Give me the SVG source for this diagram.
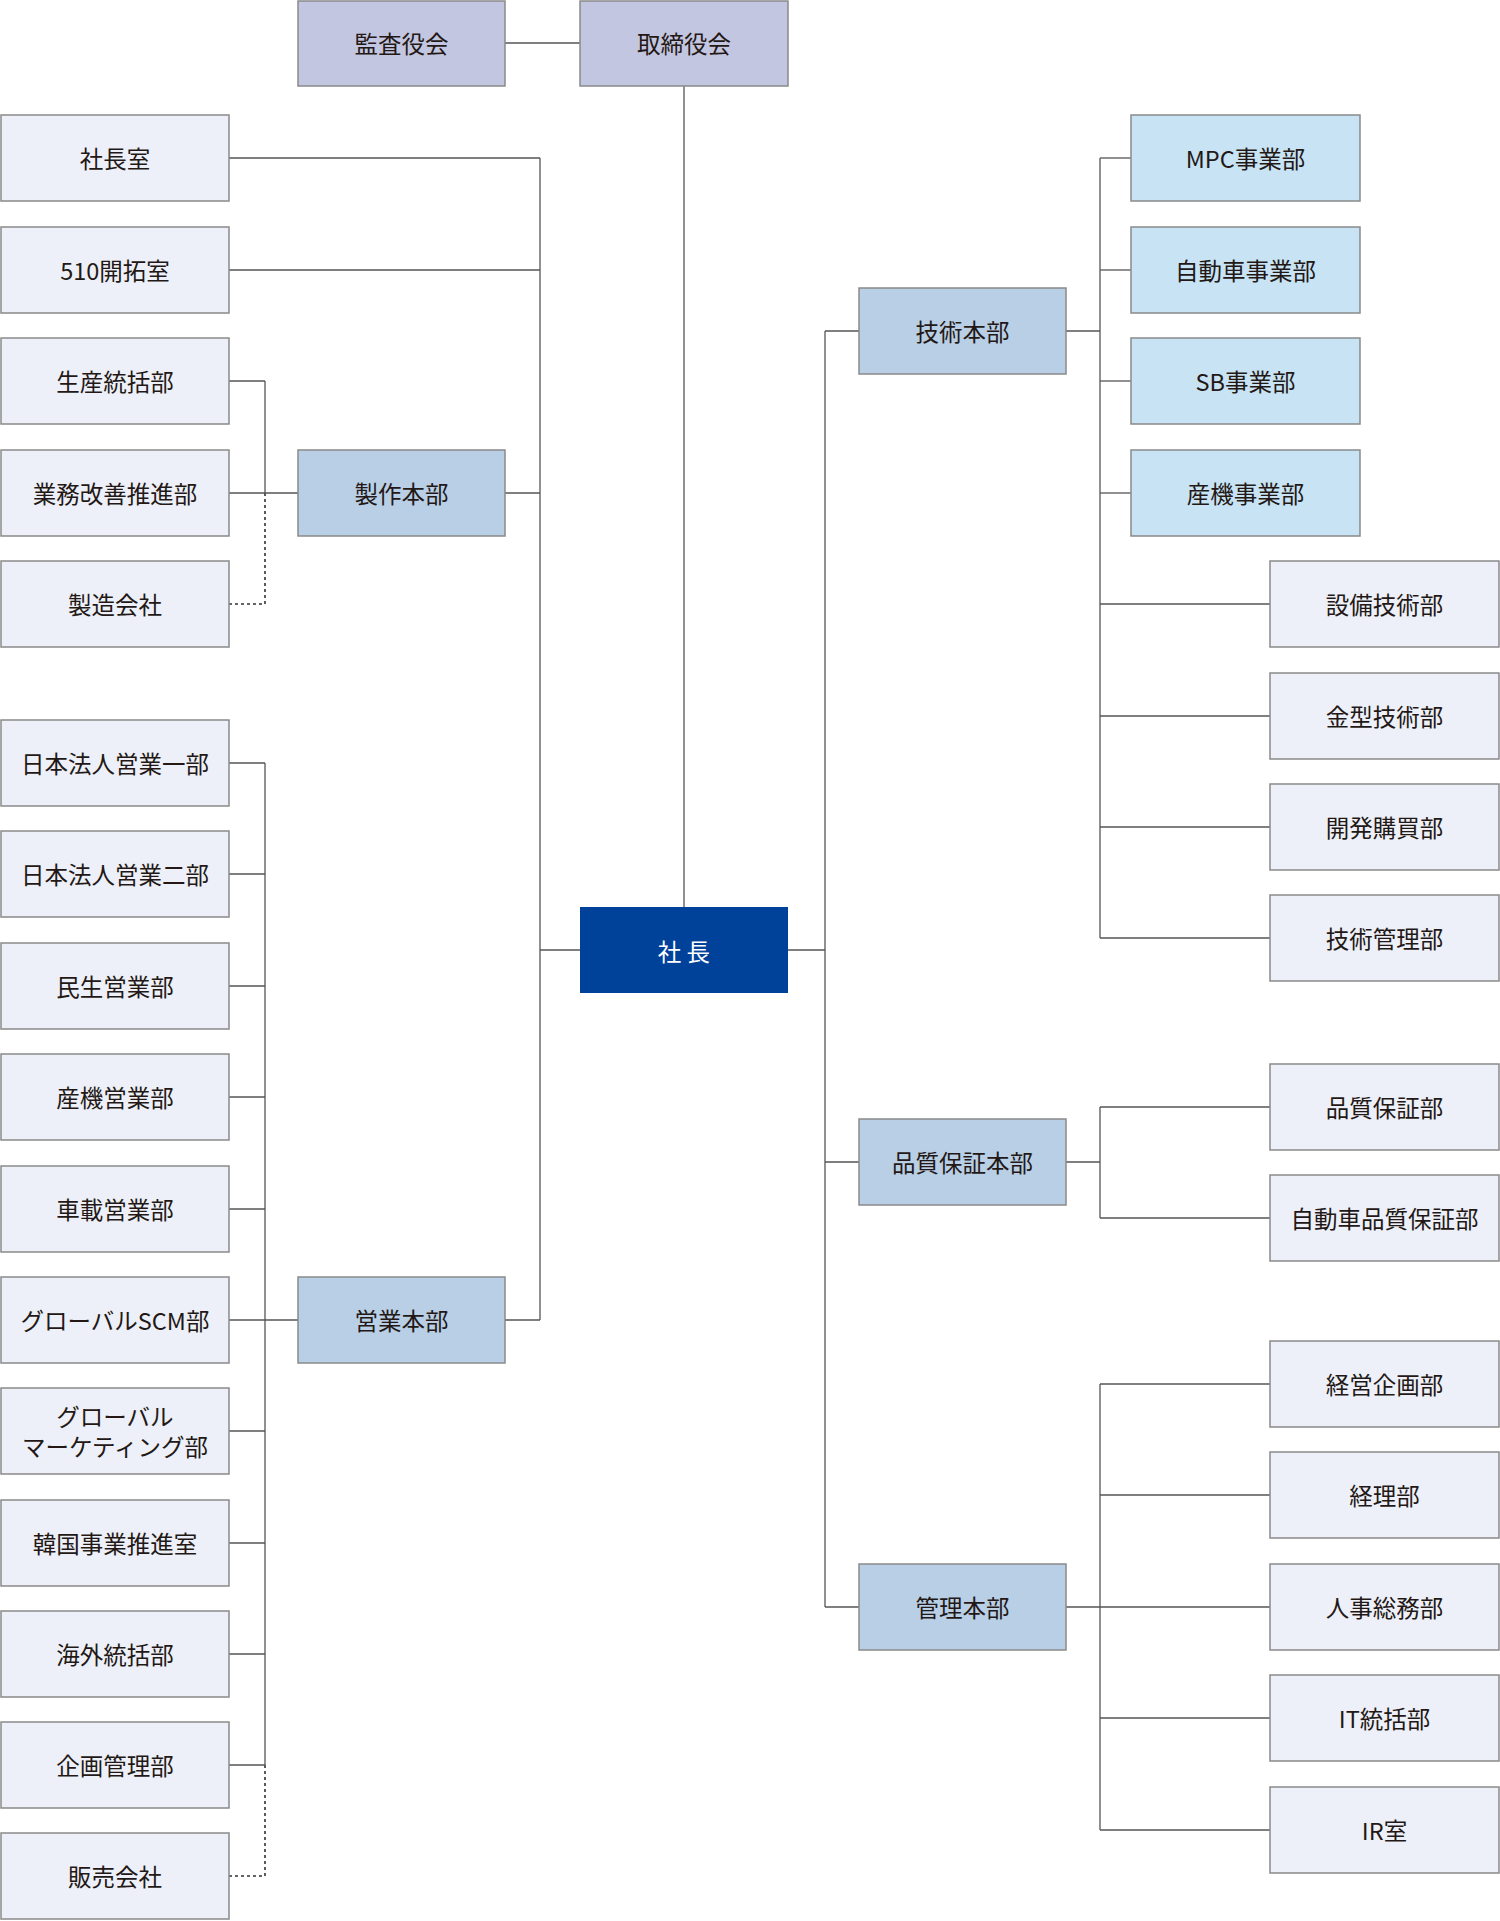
<svg xmlns="http://www.w3.org/2000/svg" width="1500" height="1921" viewBox="0 0 1500 1921">
<style>
.b{stroke:#8a8a8a;stroke-width:1.5}
.top{fill:#c3c6e0}
.hq{fill:#b8cfe6}
.biz{fill:#c7e3f4}
.dep{fill:#edf0f8}
.pres{fill:#00419a}
text{font-family:"Noto Sans CJK JP","Noto Sans",sans-serif;font-size:23.5px;fill:#231815;text-anchor:middle}
.w{fill:#ffffff}
.c line{stroke:#555555;stroke-width:1.3;fill:none}
.c .d{stroke:#333333;stroke-width:1.6;stroke-dasharray:3 3}
</style>
<rect width="1500" height="1921" fill="#ffffff"/>
<g class="c" id="connectors">
<line x1="505" y1="43" x2="580" y2="43"/>
<line x1="684" y1="86" x2="684" y2="907"/>
<line x1="540" y1="158" x2="540" y2="1320"/>
<line x1="229" y1="158" x2="540" y2="158"/>
<line x1="229" y1="270" x2="540" y2="270"/>
<line x1="505" y1="493" x2="540" y2="493"/>
<line x1="540" y1="950" x2="580" y2="950"/>
<line x1="505" y1="1320" x2="540" y2="1320"/>
<line x1="265" y1="381" x2="265" y2="493"/>
<line class="d" x1="265" y1="493" x2="265" y2="604"/>
<line x1="229" y1="381" x2="265" y2="381"/>
<line x1="229" y1="493" x2="298" y2="493"/>
<line class="d" x1="229" y1="604" x2="265" y2="604"/>
<line x1="265" y1="763" x2="265" y2="1765"/>
<line class="d" x1="265" y1="1765" x2="265" y2="1876"/>
<line x1="229" y1="763" x2="265" y2="763"/>
<line x1="229" y1="874" x2="265" y2="874"/>
<line x1="229" y1="986" x2="265" y2="986"/>
<line x1="229" y1="1097" x2="265" y2="1097"/>
<line x1="229" y1="1209" x2="265" y2="1209"/>
<line x1="229" y1="1320" x2="298" y2="1320"/>
<line x1="229" y1="1431" x2="265" y2="1431"/>
<line x1="229" y1="1543" x2="265" y2="1543"/>
<line x1="229" y1="1654" x2="265" y2="1654"/>
<line x1="229" y1="1765" x2="265" y2="1765"/>
<line class="d" x1="229" y1="1876" x2="265" y2="1876"/>
<line x1="788" y1="950" x2="825" y2="950"/>
<line x1="825" y1="331" x2="825" y2="1607"/>
<line x1="825" y1="331" x2="859" y2="331"/>
<line x1="825" y1="1162" x2="859" y2="1162"/>
<line x1="825" y1="1607" x2="859" y2="1607"/>
<line x1="1066" y1="331" x2="1100" y2="331"/>
<line x1="1100" y1="158" x2="1100" y2="938"/>
<line x1="1100" y1="158" x2="1131" y2="158"/>
<line x1="1100" y1="270" x2="1131" y2="270"/>
<line x1="1100" y1="381" x2="1131" y2="381"/>
<line x1="1100" y1="493" x2="1131" y2="493"/>
<line x1="1100" y1="604" x2="1270" y2="604"/>
<line x1="1100" y1="716" x2="1270" y2="716"/>
<line x1="1100" y1="827" x2="1270" y2="827"/>
<line x1="1100" y1="938" x2="1270" y2="938"/>
<line x1="1066" y1="1162" x2="1100" y2="1162"/>
<line x1="1100" y1="1107" x2="1100" y2="1218"/>
<line x1="1100" y1="1107" x2="1270" y2="1107"/>
<line x1="1100" y1="1218" x2="1270" y2="1218"/>
<line x1="1066" y1="1607" x2="1100" y2="1607"/>
<line x1="1100" y1="1384" x2="1100" y2="1830"/>
<line x1="1100" y1="1384" x2="1270" y2="1384"/>
<line x1="1100" y1="1495" x2="1270" y2="1495"/>
<line x1="1100" y1="1607" x2="1270" y2="1607"/>
<line x1="1100" y1="1718" x2="1270" y2="1718"/>
<line x1="1100" y1="1830" x2="1270" y2="1830"/>
</g>
<g id="kansa"><rect class="b top" x="298" y="1" width="207" height="85"/><text x="401.5" y="53">監査役会</text></g>
<g id="torishimari"><rect class="b top" x="580" y="1" width="208" height="85"/><text x="684" y="53">取締役会</text></g>
<g id="shacho"><rect class="pres" x="580" y="907" width="208" height="86"/><text class="w" x="684" y="961">社 長</text></g>
<g id="shachoshitsu"><rect class="b dep" x="1" y="115" width="228" height="86"/><text x="115" y="168">社長室</text></g>
<g id="kaitaku510"><rect class="b dep" x="1" y="227" width="228" height="86"/><text x="115" y="280">510開拓室</text></g>
<g id="seisan"><rect class="b dep" x="1" y="338" width="228" height="86"/><text x="115" y="391">生産統括部</text></g>
<g id="gyomu"><rect class="b dep" x="1" y="450" width="228" height="86"/><text x="115" y="503">業務改善推進部</text></g>
<g id="seizo"><rect class="b dep" x="1" y="561" width="228" height="86"/><text x="115" y="614">製造会社</text></g>
<g id="seisakuhonbu"><rect class="b hq" x="298" y="450" width="207" height="86"/><text x="401.5" y="503">製作本部</text></g>
<g id="nihon1"><rect class="b dep" x="1" y="720" width="228" height="86"/><text x="115" y="773">日本法人営業一部</text></g>
<g id="nihon2"><rect class="b dep" x="1" y="831" width="228" height="86"/><text x="115" y="884">日本法人営業二部</text></g>
<g id="minsei"><rect class="b dep" x="1" y="943" width="228" height="86"/><text x="115" y="996">民生営業部</text></g>
<g id="sanki_eigyo"><rect class="b dep" x="1" y="1054" width="228" height="86"/><text x="115" y="1107">産機営業部</text></g>
<g id="shasai"><rect class="b dep" x="1" y="1166" width="228" height="86"/><text x="115" y="1219">車載営業部</text></g>
<g id="scm"><rect class="b dep" x="1" y="1277" width="228" height="86"/><text x="115" y="1330">グローバルSCM部</text></g>
<g id="marketing"><rect class="b dep" x="1" y="1388" width="228" height="86"/><text x="115" y="1426">グローバル</text><text x="115" y="1456">マーケティング部</text></g>
<g id="kankoku"><rect class="b dep" x="1" y="1500" width="228" height="86"/><text x="115" y="1553">韓国事業推進室</text></g>
<g id="kaigai"><rect class="b dep" x="1" y="1611" width="228" height="86"/><text x="115" y="1664">海外統括部</text></g>
<g id="kikaku"><rect class="b dep" x="1" y="1722" width="228" height="86"/><text x="115" y="1775">企画管理部</text></g>
<g id="hanbai"><rect class="b dep" x="1" y="1833" width="228" height="86"/><text x="115" y="1886">販売会社</text></g>
<g id="eigyohonbu"><rect class="b hq" x="298" y="1277" width="207" height="86"/><text x="401.5" y="1330">営業本部</text></g>
<g id="gijutsuhonbu"><rect class="b hq" x="859" y="288" width="207" height="86"/><text x="962.5" y="341">技術本部</text></g>
<g id="hinshitsuhonbu"><rect class="b hq" x="859" y="1119" width="207" height="86"/><text x="962.5" y="1172">品質保証本部</text></g>
<g id="kanrihonbu"><rect class="b hq" x="859" y="1564" width="207" height="86"/><text x="962.5" y="1617">管理本部</text></g>
<g id="mpc"><rect class="b biz" x="1131" y="115" width="229" height="86"/><text x="1245.5" y="168">MPC事業部</text></g>
<g id="jidosha"><rect class="b biz" x="1131" y="227" width="229" height="86"/><text x="1245.5" y="280">自動車事業部</text></g>
<g id="sb"><rect class="b biz" x="1131" y="338" width="229" height="86"/><text x="1245.5" y="391">SB事業部</text></g>
<g id="sanki"><rect class="b biz" x="1131" y="450" width="229" height="86"/><text x="1245.5" y="503">産機事業部</text></g>
<g id="setsubi"><rect class="b dep" x="1270" y="561" width="229" height="86"/><text x="1384.5" y="614">設備技術部</text></g>
<g id="kanagata"><rect class="b dep" x="1270" y="673" width="229" height="86"/><text x="1384.5" y="726">金型技術部</text></g>
<g id="kaihatsu"><rect class="b dep" x="1270" y="784" width="229" height="86"/><text x="1384.5" y="837">開発購買部</text></g>
<g id="gijutsukanri"><rect class="b dep" x="1270" y="895" width="229" height="86"/><text x="1384.5" y="948">技術管理部</text></g>
<g id="hinshitsu"><rect class="b dep" x="1270" y="1064" width="229" height="86"/><text x="1384.5" y="1117">品質保証部</text></g>
<g id="jidoshahinshitsu"><rect class="b dep" x="1270" y="1175" width="229" height="86"/><text x="1384.5" y="1228">自動車品質保証部</text></g>
<g id="keiei"><rect class="b dep" x="1270" y="1341" width="229" height="86"/><text x="1384.5" y="1394">経営企画部</text></g>
<g id="keiri"><rect class="b dep" x="1270" y="1452" width="229" height="86"/><text x="1384.5" y="1505">経理部</text></g>
<g id="jinji"><rect class="b dep" x="1270" y="1564" width="229" height="86"/><text x="1384.5" y="1617">人事総務部</text></g>
<g id="it"><rect class="b dep" x="1270" y="1675" width="229" height="86"/><text x="1384.5" y="1728">IT統括部</text></g>
<g id="ir"><rect class="b dep" x="1270" y="1787" width="229" height="86"/><text x="1384.5" y="1840">IR室</text></g>
</svg>
